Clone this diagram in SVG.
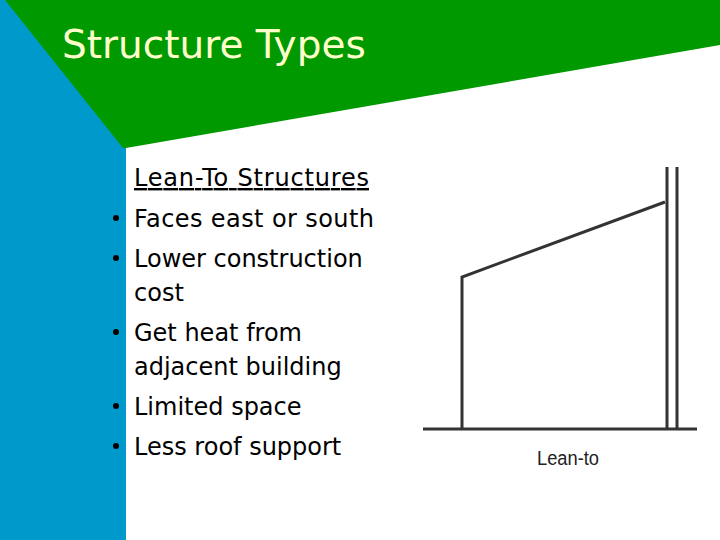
<svg xmlns="http://www.w3.org/2000/svg" width="720" height="540" viewBox="0 0 720 540">
<style>
.b{font-family:"DejaVu Sans",sans-serif;font-size:24px;fill:#000}
.ln{stroke:#333;stroke-width:3;fill:none}
</style>
<rect width="720" height="540" fill="#fff"/>
<rect x="0" y="0" width="126" height="540" fill="#0099cc"/>
<polygon points="5,0 720,0 720,45 126,148 123,148" fill="#009900"/>
<text x="62" y="58" style="font-family:'DejaVu Sans',sans-serif;font-size:39px;fill:#ffffcc">Structure Types</text>
<g id="text">
<text class="b" x="134" y="186" text-decoration="underline" textLength="235">Lean-To Structures</text>
<text class="b" x="134" y="227" textLength="240">Faces east or south</text>
<text class="b" x="134" y="267">Lower construction</text>
<text class="b" x="134" y="301">cost</text>
<text class="b" x="134" y="341">Get heat from</text>
<text class="b" x="134" y="375">adjacent building</text>
<text class="b" x="134" y="415">Limited space</text>
<text class="b" x="134" y="455">Less roof support</text>
<g fill="#000"><circle cx="116" cy="218" r="3"/><circle cx="116" cy="258" r="3"/><circle cx="116" cy="332" r="3"/><circle cx="116" cy="406" r="3"/><circle cx="116" cy="446" r="3"/></g>
</g>
<g id="leanto">
<line class="ln" x1="423" y1="429" x2="697" y2="429"/>
<polyline class="ln" points="462,429 462,277 665,202"/>
<line class="ln" x1="667" y1="167" x2="667" y2="429"/>
<line class="ln" x1="677" y1="167" x2="677" y2="429"/>
<text x="537" y="465" textLength="62" lengthAdjust="spacingAndGlyphs" style="font-family:'Liberation Sans',sans-serif;font-size:20px;fill:#222">Lean-to</text>
</g>
</svg>
